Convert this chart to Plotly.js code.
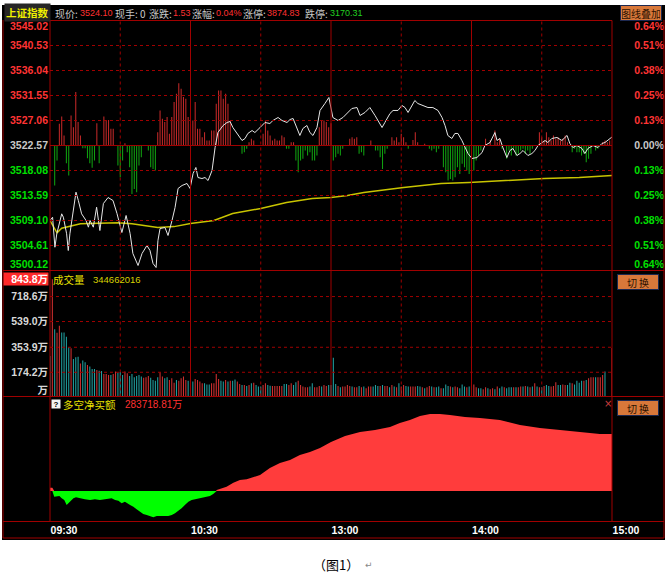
<!DOCTYPE html>
<html><head><meta charset="utf-8">
<script src="https://cdn.plot.ly/plotly-3.0.1.min.js"></script>
<style>html,body{margin:0;padding:0;background:#fff;}#chart{width:667px;height:587px;}</style>
</head><body><div id="chart"></div>
<script>
const W = 667, H = 587;

// ---------------- data ----------------
const prevClose = 3522.57;
const priceLevels = [3500.12,3504.61,3509.10,3513.59,3518.08,3522.57,3527.06,3531.55,3536.04,3540.53,3545.02];
const halfHours = [30,60,90,120,150,180,210];
const timeTicks = [0,60,120,180,240];
const timeLabels = ['09:30','10:30','13:00','14:00','15:00'];

const priceMin = [
 0,1.1,2.1,2.9,5.0,5.7,7.1,7.8,8.5,9.3,
 9.9,11.1,12.1,13.5,15.4,16.4,17.1,18.5,19.9,20.6,
 21.3,22.8,24.8,26.9,28.6,30.7,32.5,34.2,35.4,37.6,
 39.3,41.4,42.7,44.0,45.3,46.1,47.0,49.1,50.4,52.1,
 53.4,54.7,56.4,58.5,59.8,61.1,62.3,63.2,64.9,66.2,
 67.5,69.2,70.5,71.7,73.9,75.6,76.9,78.1,79.8,82.0,
 83.3,84.5,86.3,87.5,89.7,91.8,93.9,95.2,97.4,99.1,
 101.2,102.5,103.8,105.5,106.7,108.0,109.7,111.0,112.3,114.0,
 115.3,117.4,119.1,120.8,123.0,125.1,127.2,128.9,131.1,132.4,
 134.5,136.6,138.8,140.1,141.8,143.0,145.2,146.5,148.6,150.3,
 151.6,152.9,154.6,155.8,157.1,159.3,161.4,163.5,165.7,167.4,
 168.7,169.9,171.6,172.9,174.2,175.9,177.2,178.5,180.2,182.3,
 184.5,185.7,187.9,190.0,190.9,192.1,193.4,195.1,196.4,197.7,
 199.4,200.7,202.0,204.1,205.8,207.1,208.4,210.1,211.4,212.6,
 214.3,216.5,218.6,220.8,222.0,223.3,225.0,227.2,228.4,229.7,
 231.9,234.0,235.7,237.0,240];
const priceVal = [
 3509.10,3509.69,3504.30,3506.71,3510.30,3509.69,3506.71,3503.71,3506.71,3509.10,
 3511.49,3514.18,3512.69,3510.30,3509.10,3507.90,3509.10,3507.90,3511.49,3509.10,
 3507.30,3512.15,3513.23,3512.69,3510.36,3506.94,3510.00,3506.77,3503.17,3501.02,
 3503.17,3504.61,3503.71,3501.38,3500.66,3505.51,3507.66,3507.84,3506.41,3509.10,
 3511.43,3514.85,3515.39,3515.75,3514.85,3517.54,3518.62,3516.82,3516.64,3516.82,
 3516.28,3518.08,3522.21,3524.90,3526.16,3526.70,3526.88,3525.80,3524.73,3523.47,
 3523.83,3524.73,3525.26,3524.90,3525.80,3526.70,3526.52,3527.06,3527.60,3527.06,
 3526.70,3527.24,3527.42,3525.80,3524.37,3525.62,3526.16,3524.90,3524.37,3525.80,
 3528.86,3530.11,3531.19,3527.60,3527.06,3527.60,3528.50,3529.21,3529.39,3527.96,
 3528.50,3529.39,3527.96,3527.06,3525.80,3526.70,3528.32,3528.86,3528.86,3529.75,
 3529.39,3528.50,3529.75,3530.65,3530.11,3529.75,3529.39,3529.39,3528.86,3527.60,
 3526.16,3524.37,3523.83,3524.73,3524.73,3523.47,3522.21,3521.13,3520.24,3520.41,
 3521.31,3522.57,3523.11,3524.90,3523.47,3523.83,3522.21,3520.41,3521.67,3522.03,
 3520.77,3521.13,3521.67,3520.77,3521.13,3521.67,3522.57,3523.11,3523.47,3523.11,
 3523.83,3524.01,3523.47,3524.37,3522.93,3522.21,3522.57,3522.03,3521.13,3522.03,
 3522.57,3522.21,3522.93,3523.11,3524.10];

const avgMin = [0,3,5,13,21,29,35,46,53,60,70,78,90,101,112,120,127,134,151,167,179,193,211,226,240];
const avgVal = [3509.10,3506.90,3507.70,3508.50,3508.60,3508.70,3508.50,3507.84,3508.00,3508.56,3509.10,3510.36,3511.26,3512.33,3513.05,3513.23,3513.59,3514.13,3515.03,3515.75,3515.93,3516.28,3516.64,3516.82,3517.18];

const flowMin = [
 2,3,4,5,6,7,8,9,10,11,
 12,13,14,15,16,17,18,19,20,21,
 23,24,25,26,27,29,30,31,32,33,
 34,35,36,37,38,39,42,43,44,45,
 46,47,48,49,50,51,52,53,54,55,
 56,57,58,59,60,61,62,63,64,65,
 66,67,68,69,70,71,72,73,74,75,
 76,77,82,83,84,85,86,87,91,92,
 93,94,95,96,97,98,99,100,101,102,
 103,104,105,106,107,108,109,110,111,112,
 113,114,115,116,117,118,119,120,121,122,
 123,124,125,128,129,130,131,132,133,134,
 137,139,140,141,142,143,144,146,147,148,
 149,150,151,152,153,155,156,157,160,162,
 163,164,165,166,168,169,170,171,172,173,
 174,175,176,177,178,179,180,181,182,183,
 184,186,188,190,191,192,193,195,196,197,
 198,199,200,201,202,203,204,205,206,209,
 210,211,212,213,214,215,216,217,218,219,
 220,221,223,224,225,226,227,228,229,230,
 231,233,234,236,237,238,239];
const flowVal = [
 -7.2,-2.7,3.9,5.2,1.8,-3.2,-5.4,5.4,3.3,9.6,
 4.2,1.8,-0.5,-0.5,-2.3,-3.2,-4.0,-2.7,4.0,-3.2,
 5.2,4.5,4.6,3.0,3.0,-3.6,-5.7,-2.7,0.4,-1.2,
 -3.9,-8.7,-7.8,-8.4,-3.6,-2.1,-0.9,-3.9,-4.2,-4.5,
 2.4,6.3,4.8,4.2,5.1,2.1,5.1,7.8,9.3,11.2,
 10.2,8.7,8.4,5.1,3.9,4.5,7.8,3.0,3.0,1.5,
 2.4,0.9,0.9,2.7,2.7,7.5,9.9,9.9,8.4,9.3,
 7.5,4.5,-1.5,-1.2,-0.6,0.6,1.2,0.9,2.1,4.5,
 2.7,1.8,0.9,1.2,0.9,0.9,1.8,1.5,-0.6,-0.6,
 0.6,0.6,-2.7,-4.8,-2.7,-2.4,-0.9,-1.8,-1.2,-2.7,
 -2.7,-1.8,3.3,4.5,4.5,4.2,3.3,4.0,-2.7,-2.1,
 -1.5,-1.8,-0.6,1.2,1.5,1.2,1.5,-1.5,-1.2,-1.8,
 0.9,-0.9,-0.9,-2.1,-4.2,-1.5,-0.6,1.5,0.9,1.5,
 0.6,2.1,1.5,0.6,-0.6,1.0,2.4,0.6,0.3,-0.6,
 -0.9,-0.6,-1.2,-0.6,-3.9,-4.8,-6.3,-6.0,-6.3,-5.7,
 -3.9,-5.1,-3.3,-3.9,-4.5,-5.1,-6.0,-4.5,-2.7,-1.8,
 -0.9,1.2,1.0,2.7,0.6,1.2,-0.6,-2.4,-0.9,-1.8,
 -0.6,-1.8,-1.5,-0.9,-0.6,-1.5,-0.9,-1.5,-0.6,2.4,
 1.5,0.9,2.4,1.5,0.9,1.8,1.2,1.5,0.9,1.2,
 1.8,0.6,-1.2,-0.6,-1.2,-1.2,-1.8,-1.5,-3.0,-2.4,
 -1.5,-0.9,-0.6,0.6,0.9,0.6,0.9];

// volume per minute (万), minute index 0..240
const volume = [
 291,843.8,483,459,509,461,461,430,354,346,
 270,282,286,238,258,246,227,215,198,198,
 191,186,183,162,162,155,155,162,179,171,
 176,155,179,167,147,162,138,147,155,143,
 135,138,147,135,119,114,138,174,143,131,
 138,119,131,99,119,114,131,143,119,114,
 123,107,126,119,107,95,95,87,87,95,
 95,162,126,114,107,119,107,114,114,123,
 107,90,83,83,76,83,95,99,83,71,
 71,83,95,83,78,76,76,76,76,76,
 90,90,83,95,83,102,114,83,71,66,
 66,71,95,66,66,76,71,83,76,83,
 83,279,90,76,66,71,71,83,76,71,
 66,66,76,66,71,59,71,71,71,83,
 76,76,83,76,76,66,83,71,66,95,
 71,83,76,71,71,71,71,76,71,66,
 59,66,76,71,66,66,71,59,59,87,
 76,71,66,71,66,59,87,71,66,71,
 76,87,66,59,59,52,66,59,52,59,
 52,71,59,71,66,59,66,66,66,66,
 66,71,71,76,71,66,71,95,71,66,
 66,76,83,76,71,76,102,83,83,87,
 83,83,99,95,87,114,99,114,114,119,
 131,138,138,138,138,138,155,179,0,0,
 349];
// 1 = price up (red), 0 = price down (teal)
const volUp = [
 0,1,0,1,1,0,0,0,0,1,
 0,0,0,1,0,0,1,0,0,0,
 1,0,0,1,1,1,0,1,1,0,
 0,0,1,1,0,0,0,0,0,0,
 1,1,1,0,0,0,0,1,1,0,
 0,1,1,1,0,1,1,1,1,0,
 0,0,1,1,1,1,0,0,0,1,
 1,1,1,0,0,1,0,1,0,0,
 1,1,0,1,0,1,0,1,0,0,
 0,1,1,0,0,1,1,1,1,1,
 0,0,1,1,0,0,1,1,1,1,
 1,0,0,1,1,1,0,1,1,0,
 0,0,0,1,0,1,1,1,1,0,
 1,1,0,1,0,1,1,1,0,0,
 0,1,0,1,1,0,1,0,1,0,
 1,1,0,0,1,1,1,0,0,1,
 0,1,1,0,1,0,0,1,0,0,
 0,1,0,1,1,0,0,0,1,0,
 0,1,1,0,0,1,1,0,1,1,
 0,1,0,0,1,0,0,0,1,0,
 1,1,0,1,0,1,0,1,0,1,
 0,1,0,0,1,1,1,0,0,1,
 1,0,0,1,0,0,0,0,1,0,
 1,1,1,0,1,1,1,0,1,1,
 1];
const volLevels = [174.2,353.9,539.0,718.6];
const volMax = 843.8;
const volTotal = '344662016';

// 多空净买额 (万)
const netMin = [
 0,1,1.8,4.0,5.0,6.1,7.1,7.8,8.8,10.0,
 11.1,12.8,14.9,17.1,19.2,21.3,24.2,26.3,27.8,29.2,
 30.6,32.0,34.2,35.6,37.0,38.4,39.8,41.3,42.7,44.1,
 45.6,49.1,50.5,52.0,53.4,54.8,56.2,57.6,59.1,60.5,
 61.9,64.0,66.2,68.3,69.7,70.9,71.2,73.3,75.4,78.3,
 81.1,84.0,86.8,89.7,93.9,98.2,102.5,106.7,111.0,115.3,
 120,126,132.4,138.8,145.2,149.4,153.7,158.0,162.3,166.5,
 170.8,177.2,183.6,192.1,200.7,209.2,217.8,226.3,234.8,240];
const netVal = [
 16600,16600,-28400,-24900,-36500,-44800,-69700,-61400,-53100,-36500,
 -31500,-36500,-41500,-44800,-41500,-44800,-41500,-36500,-44800,-48100,
 -61400,-53100,-69700,-78000,-91300,-102900,-114500,-119400,-124400,-131100,
 -124400,-124400,-124400,-119400,-111100,-97900,-86200,-69700,-53100,-44800,
 -41500,-36500,-31500,-24900,-14900,-3300,5000,13300,21600,41500,
 54700,58100,68100,79600,114500,139000,154000,179000,194000,214000,
 244000,274000,294000,304000,318000,338000,353000,373000,383000,383000,
 378000,368000,363000,353000,328000,314000,304000,294000,284000,283718.81];
const netLast = '283718.81万';

const header = [
 {t:'现价:', x:53, k:'l'}, {t:'3524.10', x:78, k:'up'},
 {t:'现手:', x:113, k:'l'}, {t:'0', x:138, k:'l'},
 {t:'涨跌:', x:147, k:'l'}, {t:'1.53', x:171, k:'up'},
 {t:'涨幅:', x:190, k:'l'}, {t:'0.04%', x:214, k:'up'},
 {t:'涨停:', x:241, k:'l'}, {t:'3874.83', x:265, k:'up'},
 {t:'跌停:', x:303, k:'l'}, {t:'3170.31', x:328, k:'dn'}
];

// ---------------- helpers ----------------
const px = x => x / W;
const py = y => 1 - y / H;
const RED = '#ff3434', GRN = '#00e000', GRY = '#c8c8c8';
const GRID = '#a00000';
const numFont = {family:'Liberation Sans, Arial, sans-serif', size:10.5, weight:'bold'};

const mainTop = 20.5, mainBot = 270.5, volTop = 271.5, volBot = 396.5, netTop = 397, netBot = 521.5;
const priceSpan = priceLevels[priceLevels.length-1] - priceLevels[0];
const pricePerPx = priceSpan / (mainBot - mainTop);
const volRange = [0, 898.7];
const volPerPx = volRange[1] / (volBot - volTop);
const netPerPx = 4977;
const netZeroPx = 491;
const netRange = [-(netBot - netZeroPx) * netPerPx, (netZeroPx - netTop) * netPerPx];

const lvlColor = v => v > prevClose + 1e-6 ? RED : (v < prevClose - 1e-6 ? GRN : GRY);
const span = (c, t) => `<span style="color:${c}">${t}</span>`;
const nudge = 6 * pricePerPx;
const tickPos = priceLevels.map((v,i) => i===0 ? v + nudge : (i===priceLevels.length-1 ? v - nudge : v));

// ---------------- traces ----------------
const traces = [];
traces.push({
  type:'bar', x: flowMin, y: flowVal, base: prevClose, width: 0.45,
  marker:{color: flowVal.map(v => v >= 0 ? '#c02828' : '#10a010'), line:{width:0}},
  xaxis:'x', yaxis:'y', hoverinfo:'skip'
});
traces.push({type:'scatter', mode:'lines', x: avgMin, y: avgVal, line:{color:'#c8c400', width:1.5},
  xaxis:'x', yaxis:'y', hoverinfo:'skip'});
traces.push({type:'scatter', mode:'lines', x: priceMin, y: priceVal, line:{color:'#e6e6e6', width:1},
  xaxis:'x', yaxis:'y', hoverinfo:'skip'});
traces.push({
  type:'bar', x: volume.map((v,i) => i), y: volume, width: 0.45,
  marker:{color: volUp.map(u => u ? '#d03030' : '#20a0a0'), line:{width:0}},
  xaxis:'x', yaxis:'y3', hoverinfo:'skip'
});
traces.push({type:'scatter', mode:'lines', x: netMin, y: netVal.map(v => Math.min(v,0)),
  fill:'tozeroy', fillcolor:'#00ff00', line:{width:0, color:'#00ff00'}, xaxis:'x', yaxis:'y4', hoverinfo:'skip'});
traces.push({type:'scatter', mode:'lines', x: netMin, y: netVal.map(v => Math.max(v,0)),
  fill:'tozeroy', fillcolor:'#ff3c3c', line:{width:0, color:'#ff3c3c'}, xaxis:'x', yaxis:'y4', hoverinfo:'skip'});
// invisible trace so the percent axis renders
traces.push({type:'scatter', mode:'lines', x:[0], y:[prevClose], xaxis:'x', yaxis:'y2', line:{width:0}, hoverinfo:'skip'});

// ---------------- shapes ----------------
const shapes = [];
shapes.push({type:'rect', xref:'paper', yref:'paper', x0:px(2), x1:px(665), y0:py(540), y1:py(5),
  fillcolor:'#000000', line:{width:0}, layer:'below'});
const L = (o) => Object.assign({type:'line', layer:'above', line:{color:GRID, width:1}}, o);
priceLevels.slice(1, -1).forEach(v => shapes.push(L({xref:'paper', yref:'y', x0:px(50), x1:px(612), y0:v, y1:v,
  line:{color:GRID, width:1, dash: Math.abs(v-prevClose) < 1e-6 ? 'solid' : '3px,3px'}})));
volLevels.forEach(v => shapes.push(L({xref:'paper', yref:'y3', x0:px(50), x1:px(612), y0:v, y1:v,
  line:{color:GRID, width:1, dash:'3px,3px'}})));
halfHours.forEach(m => shapes.push(L({xref:'x', yref:'paper', x0:m, x1:m, y0:py(volBot), y1:py(mainTop),
  line:{color:GRID, width:1, dash: m % 60 === 0 ? 'solid' : '3px,3px'}})));
[mainBot, volBot, netBot].forEach(y => shapes.push(L({xref:'paper', yref:'paper', x0:px(3), x1:px(664), y0:py(y), y1:py(y)})));
shapes.push(L({xref:'paper', yref:'paper', x0:px(50), x1:px(612), y0:py(mainTop), y1:py(mainTop)}));
shapes.push(L({xref:'paper', yref:'paper', x0:px(3), x1:px(664), y0:py(538), y1:py(538)}));
[50, 612].forEach(x => shapes.push(L({xref:'paper', yref:'paper', x0:px(x), x1:px(x), y0:py(netBot), y1:py(mainTop)})));
[3, 664].forEach(x => shapes.push(L({xref:'paper', yref:'paper', x0:px(x), x1:px(x), y0:py(538), y1:py(20)})));

// ---------------- annotations ----------------
const cjk = 'Noto Sans CJK SC, sans-serif';
const ann = [];
ann.push({text:'上证指数', xref:'paper', yref:'paper', x:px(4), y:py(12.5), xanchor:'left', yanchor:'middle',
  showarrow:false, font:{family:cjk, size:10.5, color:'#f0f000', weight:'bold'}, bgcolor:'#262626'});
header.forEach(h => ann.push({text:h.t, xref:'paper', yref:'paper', x:px(h.x), y:py(13), xanchor:'left', yanchor:'middle',
  showarrow:false, font: h.k === 'l' ? {family:cjk, size:10, color:GRY} :
    {family:'Liberation Sans, Arial, sans-serif', size:9, color: h.k === 'up' ? '#ff3030' : '#20d020'}}));
const btn = (t, x, y) => ({text:t, xref:'paper', yref:'paper', x:px(x), y:py(y), xanchor:'center', yanchor:'middle',
  showarrow:false, font:{family:cjk, size:10, color:'#2a1000'}, bgcolor:'#d8783a', bordercolor:'#1c2850',
  borderwidth:1, borderpad:1, width:38, height:12});
ann.push(btn('图线叠加', 641, 13));
ann.push(btn('切 换', 638, 282));
ann.push(btn('切 换', 638, 408));
ann.push({text:volMax.toFixed(1) + '万', xref:'paper', yref:'y3', x:px(49), y:volMax, xanchor:'right', yanchor:'middle',
  showarrow:false, font:{family:'Liberation Sans, Noto Sans CJK SC, sans-serif', size:10.5, color:'#ffffff', weight:'bold'},
  bgcolor:'#ff2a2a', width:44, align:'right', borderpad:0});
ann.push({text:'成交量', xref:'paper', yref:'paper', x:px(51), y:py(279), xanchor:'left', yanchor:'middle',
  showarrow:false, font:{family:cjk, size:10.5, color:'#e8e000'}});
ann.push({text:volTotal, xref:'paper', yref:'paper', x:px(91), y:py(279), xanchor:'left', yanchor:'middle',
  showarrow:false, font:{family:'Liberation Sans, Arial, sans-serif', size:9.5, color:'#d8d000'}});
ann.push({text:'<b>?</b>', xref:'paper', yref:'paper', x:px(51), y:py(403.5), xanchor:'left', yanchor:'middle',
  showarrow:false, font:{family:'Liberation Sans, Arial', size:8, color:'#000'}, bgcolor:'#f4f4f4', borderpad:0, width:8, height:8});
ann.push({text:'多空净买额', xref:'paper', yref:'paper', x:px(61), y:py(404), xanchor:'left', yanchor:'middle',
  showarrow:false, font:{family:cjk, size:10.5, color:'#e8e000'}});
ann.push({text:netLast, xref:'paper', yref:'paper', x:px(123), y:py(404), xanchor:'left', yanchor:'middle',
  showarrow:false, font:{family:'Liberation Sans, Noto Sans CJK SC', size:10, color:'#ff3030'}});
ann.push({text:'×', xref:'paper', yref:'paper', x:px(608), y:py(403), xanchor:'center', yanchor:'middle',
  showarrow:false, font:{family:'DejaVu Sans', size:10, color:'#c83c3c'}});
ann.push({text:'（图1）', xref:'paper', yref:'paper', x:px(336), y:py(564), xanchor:'center', yanchor:'middle',
  showarrow:false, font:{family:cjk, size:13, color:'#000'}});
ann.push({text:'↵', xref:'paper', yref:'paper', x:px(363), y:py(565), xanchor:'left', yanchor:'middle',
  showarrow:false, font:{family:'DejaVu Sans', size:9, color:'#888'}});

// ---------------- layout ----------------
const layout = {
  width: W, height: H, margin:{l:0, r:0, t:0, b:0},
  paper_bgcolor:'#ffffff', plot_bgcolor:'rgba(0,0,0,0)', showlegend:false, barmode:'overlay',
  xaxis:{domain:[px(50), px(612)], range:[0, 240], anchor:'y4', tickvals: timeTicks, ticktext: timeLabels,
    showgrid:false, zeroline:false, showline:false, ticks:'', fixedrange:true,
    tickfont:{family:'Liberation Sans, Arial, sans-serif', size:10.5, color:'#ffffff', weight:'bold'},
    ticklabelshift:14, ticklabelstandoff:1},
  yaxis:{domain:[py(mainBot), py(mainTop)], range:[priceLevels[0], priceLevels[priceLevels.length-1]], anchor:'x',
    tickvals: tickPos, ticktext: priceLevels.map(v => span(lvlColor(v), v.toFixed(2))),
    showgrid:false, zeroline:false, showline:false, ticks:'', tickfont: numFont, ticklabelstandoff:1},
  yaxis2:{overlaying:'y', side:'left', anchor:'free', position:px(665), range:[priceLevels[0], priceLevels[priceLevels.length-1]],
    tickvals: tickPos, ticktext: priceLevels.map(v => span(lvlColor(v), (Math.abs(v-prevClose)/prevClose*100).toFixed(2) + '%')),
    showgrid:false, zeroline:false, showline:false, ticks:'', tickfont: numFont, ticklabelstandoff:1},
  yaxis3:{domain:[py(volBot), py(volTop)], range: volRange, anchor:'x',
    tickvals:[6.5*volPerPx].concat(volLevels), ticktext:['万'].concat(volLevels.map(v => v.toFixed(1) + '万')),
    showgrid:false, zeroline:false, showline:false, ticks:'', ticklabelstandoff:1,
    tickfont:{family:'Liberation Sans, Noto Sans CJK SC, sans-serif', size:10.5, color:'#d8d8d8', weight:'bold'}},
  yaxis4:{domain:[py(netBot), py(netTop)], range: netRange, anchor:'x',
    showgrid:false, zeroline:false, showline:false, showticklabels:false, ticks:''},
  shapes: shapes, annotations: ann
};

Plotly.newPlot('chart', traces, layout, {displayModeBar:false, staticPlot:true});
</script>
</body></html>
